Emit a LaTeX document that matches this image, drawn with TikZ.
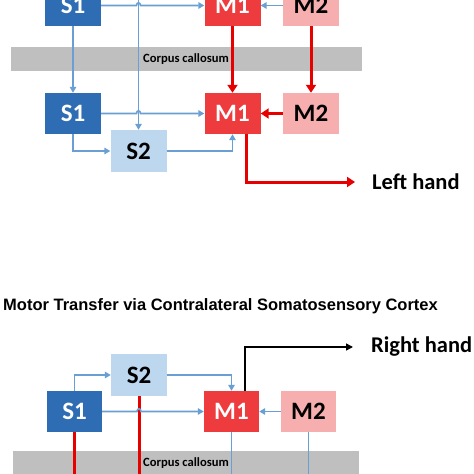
\documentclass[tikz,border=0pt]{standalone}
\usepackage{fontspec}
\setmainfont{Carlito}
\newfontfamily\arialf{Liberation Sans}
\usetikzlibrary{arrows.meta}
\definecolor{sone}{HTML}{2E6DB4}
\definecolor{stwo}{HTML}{BDD7EE}
\definecolor{mone}{HTML}{EE3B3E}
\definecolor{mtwo}{HTML}{F7AEAE}
\definecolor{bline}{HTML}{6A9FD4}
\definecolor{rline}{HTML}{E60000}
\definecolor{barg}{HTML}{BFBFBF}
\tikzset{
  box/.style={minimum width=56pt,minimum height=41pt,inner sep=0pt,font=\fontsize{25}{27}\selectfont\bfseries},
  sonebox/.style={box,fill=sone,text=white},
  stwobox/.style={box,fill=stwo,text=black,minimum height=42pt},
  monebox/.style={box,fill=mone,text=white},
  mtwobox/.style={box,fill=mtwo,text=black},
  bartext/.style={font=\fontsize{12.6}{14}\selectfont\bfseries,inner sep=0pt},
  handtext/.style={font=\fontsize{22.5}{25}\selectfont\bfseries,inner sep=0pt,anchor=west},
  barrow/.style={draw=bline,line width=1.6pt,-{Triangle[width=6.5pt,length=6pt]}},
  bline/.style={draw=bline,line width=1.6pt},
  rarrow/.style={draw=rline,line width=3pt,-{Triangle[width=10pt,length=8pt]}},
  rlinest/.style={draw=rline,line width=3pt},
  karrow/.style={draw=black,line width=1.5pt,-{Triangle[width=7pt,length=7pt]}},
}
\begin{document}
\begin{tikzpicture}[x=1pt,y=-1pt]
\useasboundingbox (0,0) rectangle (474,474);
\clip (0,0) rectangle (474,474);
\fill[white] (0,0) rectangle (474,474);
% ---------- top section ----------
\fill[barg] (11,47) rectangle (362,71);
\node[bartext] (cc1) at (186,59) {Corpus callosum};
\node[sonebox] (s1a) at (73,5.5) {S1};
\node[monebox] (m1a) at (232.5,5.5) {M1};
\node[mtwobox] (m2a) at (311,5.5) {M2};
\node[sonebox] (s1b) at (73,113.5) {S1};
\node[monebox] (m1b) at (232.5,113.5) {M1};
\node[mtwobox] (m2b) at (311,113.5) {M2};
\node[stwobox] (s2a) at (138.5,151) {S2};
\coordinate (vtop) at (138.5,0);
\node[handtext] (lh) at (372,182) {Left hand};
% connectors
\draw[barrow] (vtop) -- (s2a.north);
\draw[barrow] (s1a.east) -- (136.5,5.5) .. controls (136.5,2) and (140.5,2) .. (140.5,5.5) -- (m1a.west);
\draw[barrow] (m2a.west) -- (m1a.east);
\draw[barrow] (s1a.south) -- (s1b.north);
\draw[rarrow] (m1a.south) -- (m1b.north);
\draw[rarrow] (m2a.south) -- (m2b.north);
\draw[barrow] (s1b.east) -- (136.5,113.5) .. controls (136.5,110) and (140.5,110) .. (140.5,113.5) -- (m1b.west);
\draw[rarrow] (m2b.west) -- (m1b.east);
\draw[barrow] (s1b.south) |- (s2a.west);
\draw[barrow] (s2a.east) -| (m1b.south);
\draw[rarrow,shorten >=17pt] ([xshift=13.5pt]m1b.south) |- (lh.west);
% ---------- bottom section ----------
\node[font=\arialf\fontsize{16.5}{18}\selectfont\bfseries,inner sep=0pt] (title) at (220.5,306) {Motor Transfer via Contralateral Somatosensory Cortex};
\fill[barg] (13,451) rectangle (359,480);
\node[bartext] (cc2) at (186,463) {Corpus callosum};
\node[stwobox] (s2b) at (139,375) {S2};
\node[sonebox,minimum width=55pt] (s1c) at (74.5,411.5) {S1};
\node[monebox,minimum width=55pt] (m1c) at (231.5,411.5) {M1};
\node[mtwobox,minimum width=55pt] (m2c) at (308.5,411.5) {M2};
\node[handtext] (rh) at (371,347) {Right hand};
\coordinate (b1) at (74.5,474);
\coordinate (b2) at (139,474);
\coordinate (b3) at (231.5,474);
\coordinate (b4) at (308.5,474);
\draw[rlinest] (s1c.south) -- (b1);
\draw[rlinest] (s2b.south) -- (b2);
\draw[bline] (m1c.south) -- (b3);
\draw[bline] (m2c.south) -- (b4);
\draw[barrow] (s1c.north) |- (s2b.west);
\draw[barrow] (s2b.east) -| (m1c.north);
\draw[barrow] (s1c.east) -- (137,411.5) .. controls (137,408) and (141,408) .. (141,411.5) -- (m1c.west);
\draw[barrow] (m2c.west) -- (m1c.east);
\draw[karrow,shorten >=18pt] ([xshift=13.5pt]m1c.north) |- (rh.west);
\end{tikzpicture}
\end{document}
